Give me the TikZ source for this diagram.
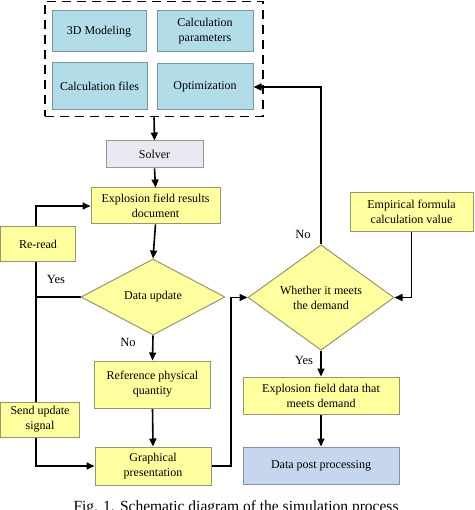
\documentclass[tikz,border=0pt]{standalone}
\usepackage{fontspec}
\setmainfont{Liberation Serif}
\usetikzlibrary{arrows.meta,shapes.geometric,backgrounds}
\definecolor{yel}{RGB}{255,255,160}
\definecolor{yelb}{RGB}{150,150,110}
\definecolor{cyanf}{RGB}{178,221,232}
\definecolor{cyanb}{RGB}{120,150,160}
\definecolor{solf}{RGB}{234,232,240}
\definecolor{solb}{RGB}{150,150,155}
\definecolor{dppf}{RGB}{198,214,238}
\definecolor{dppb}{RGB}{130,145,170}
\tikzset{
  x=1pt, y=-1pt,
  base/.style={draw, line width=1pt, align=center, inner sep=0pt,
    font=\fontsize{12}{15}\selectfont},
  ybox/.style={base, draw=yelb, fill=yel},
  cbox/.style={base, draw=cyanb, fill=cyanf},
  sbox/.style={base, draw=solb, fill=solf},
  pbox/.style={base, draw=dppb, fill=dppf},
  ydia/.style={base, diamond, draw=yelb, fill=yel},
  conn/.style={line width=1.6pt, black},
  arr/.style={conn, -{Triangle[length=8pt,width=7pt]}},
  lab/.style={font=\fontsize{12.5}{14}\selectfont, inner sep=0pt},
}
\begin{document}
\begin{tikzpicture}
\useasboundingbox (0,0) rectangle (474,510);
% container
\node[draw, line width=1.6pt, dash pattern=on 9pt off 6pt, minimum width=218pt, minimum height=115pt, inner sep=0pt] (frame) at (154,59) {};
\node[cbox, minimum width=94pt, minimum height=41pt] (m3d) at (99,31.5) {3D Modeling};
\node[cbox, minimum width=96pt, minimum height=41pt] (cpar) at (205,31.5) {Calculation\\parameters};
\node[cbox, minimum width=95pt, minimum height=47pt] (cfiles) at (99.5,86.5) {Calculation files};
\node[cbox, minimum width=96pt, minimum height=46pt] (opt) at (205,87) {Optimization};
\node[sbox, minimum width=97pt, minimum height=27pt] (solver) at (154.5,154.5) {Solver};
\node[ybox, minimum width=129pt, minimum height=36pt] (expl) at (155.5,206) {Explosion field results\\document};
\node[ybox, minimum width=75pt, minimum height=34pt] (reread) at (38,244) {Re-read};
\node[ydia, minimum width=144pt, minimum height=76pt] (du) at (153,297) {Data update};
\node[ybox, minimum width=116pt, minimum height=47pt] (ref) at (152.5,384.5) {Reference physical\\quantity};
\node[ybox, minimum width=116pt, minimum height=38pt] (graph) at (153,466) {Graphical\\presentation};
\node[ybox, minimum width=79pt, minimum height=35pt] (send) at (40,419.5) {Send update\\signal};
\node[ydia, minimum width=146pt, minimum height=76pt] (wh) at (321,297.5) {Whether it meets\\the demand};
\node[ybox, minimum width=123pt, minimum height=38pt] (emp) at (411.5,212) {Empirical formula\\calculation value};
\node[ybox, minimum width=156pt, minimum height=37pt] (efd) at (321,395.5) {Explosion field data that\\meets demand};
\node[pbox, minimum width=156pt, minimum height=37pt] (dpp) at (321,465.5) {Data post processing};
% labels
\node[lab] (lyes1) at (56,279) {Yes};
\node[lab] (lno1) at (128,342) {No};
\node[lab] (lno2) at (303,234) {No};
\node[lab] (lyes2) at (304,360) {Yes};
% caption
\node[font=\fontsize{15.5}{17}\selectfont, anchor=base, inner sep=0pt] (cap) at (236,511) {Fig. 1. Schematic diagram of the simulation process};
\begin{pgfonlayer}{background}
\coordinate (lx) at (36,297);
\coordinate (rx) at (231,466);
\draw[arr] (frame.south) -- (solver.north);
\draw[arr] (solver.south) -- (expl.north);
\draw[arr] (expl.south) -- (du.north);
\draw[arr] (du.west) -- (lx) |- (expl.west);
\draw[arr] (lx) |- (graph.west);
\draw[arr] (du.south) -- (ref.north);
\draw[arr] (ref.south) -- (graph.north);
\draw[arr] (graph.east) -- (rx) |- (wh.west);
\draw[arr] (wh.north) |- (opt.east);
\draw[arr] (emp.south) |- (wh.east);
\draw[arr] (wh.south) -- (efd.north);
\draw[arr] (efd.south) -- (dpp.north);
\end{pgfonlayer}
\end{tikzpicture}
\end{document}
